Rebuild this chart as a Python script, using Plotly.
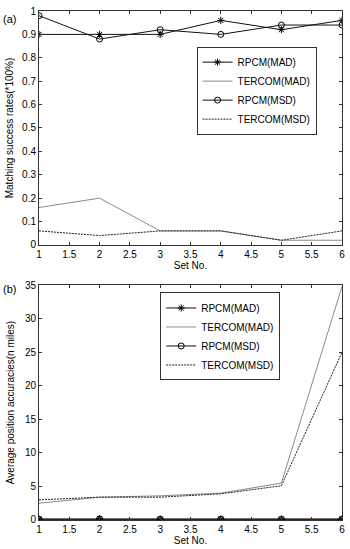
import plotly.graph_objects as go
from plotly.subplots import make_subplots

sets = [1, 2, 3, 4, 5, 6]
# (a) matching success rates
a_rpcm_mad = [0.90, 0.90, 0.90, 0.96, 0.92, 0.96]
a_tercom_mad = [0.16, 0.20, 0.06, 0.06, 0.02, 0.02]
a_rpcm_msd = [0.98, 0.88, 0.92, 0.90, 0.94, 0.94]
a_tercom_msd = [0.06, 0.04, 0.06, 0.06, 0.02, 0.06]
# (b) average position accuracies
b_rpcm_mad = [0.15, 0.2, 0.15, 0.15, 0.15, 0.15]
b_tercom_mad = [2.5, 3.4, 3.6, 4.0, 5.5, 34.8]
b_rpcm_msd = [0.1, 0.15, 0.1, 0.1, 0.1, 0.1]
b_tercom_msd = [3.0, 3.4, 3.4, 3.9, 5.1, 25.0]

FONT = "Liberation Sans, Arial, sans-serif"
fig = make_subplots(rows=2, cols=1)

def add(x, y, name, row, legend, color, dash, marker):
    kw = dict(x=x, y=y, name=name, legend=legend,
              line=dict(color=color, width=1, dash=dash))
    if marker:
        kw["mode"] = "lines+markers"
        kw["marker"] = dict(symbol=marker, size=6, color="black",
                            line=dict(color="black", width=1))
    else:
        kw["mode"] = "lines"
    fig.add_trace(go.Scatter(**kw), row=row, col=1)

add(sets, a_rpcm_mad, "RPCM(MAD)", 1, "legend", "#111111", "solid", "asterisk-open")
add(sets, a_tercom_mad, "TERCOM(MAD)", 1, "legend", "#8a8a8a", "solid", None)
add(sets, a_rpcm_msd, "RPCM(MSD)", 1, "legend", "#111111", "solid", "circle-open")
add(sets, a_tercom_msd, "TERCOM(MSD)", 1, "legend", "#222222", "2px,1px", None)

add(sets, b_rpcm_mad, "RPCM(MAD)", 2, "legend2", "#111111", "solid", "asterisk-open")
add(sets, b_tercom_mad, "TERCOM(MAD)", 2, "legend2", "#8a8a8a", "solid", None)
add(sets, b_rpcm_msd, "RPCM(MSD)", 2, "legend2", "#111111", "solid", "circle-open")
add(sets, b_tercom_msd, "TERCOM(MSD)", 2, "legend2", "#222222", "2px,1px", None)

xticks = [1, 1.5, 2, 2.5, 3, 3.5, 4, 4.5, 5, 5.5, 6]
axcommon = dict(showgrid=False, zeroline=False, showline=True, mirror="ticks",
                linecolor="#333333", linewidth=1, ticks="inside", ticklen=3,
                tickcolor="#333333", tickfont=dict(size=10, color="black", family=FONT))

fig.update_xaxes(range=[1, 6], tickvals=xticks, ticktext=[f"{v:g}" for v in xticks],
                 title=dict(text="Set No.", font=dict(size=10, family=FONT, color="black"), standoff=2),
                 **axcommon)
fig.update_yaxes(**axcommon)
fig.update_yaxes(range=[0, 1], dtick=0.1, row=1, col=1,
                 title=dict(text="Matching success rates(*100%)", font=dict(size=10, family=FONT, color="black"), standoff=6))
fig.update_yaxes(range=[0, 35], dtick=5, row=2, col=1,
                 title=dict(text="Average position accuracies(n miles)", font=dict(size=10, family=FONT, color="black"), standoff=8))

fig.update_layout(
    width=350, height=549,
    margin=dict(l=39, r=6, t=5, b=24),
    plot_bgcolor="white", paper_bgcolor="white",
    font=dict(family=FONT, size=10, color="black"),
    xaxis=dict(domain=[0, 1]), yaxis=dict(domain=[0.5404, 1.0]),
    xaxis2=dict(domain=[0, 1]), yaxis2=dict(domain=[0.0, 0.4615]),
    legend=dict(x=0.52, y=0.93, xanchor="left", yanchor="top",
                bgcolor="white", bordercolor="#333333", borderwidth=1,
                font=dict(size=10, family=FONT), itemwidth=30, tracegroupgap=0),
    legend2=dict(x=0.40, y=0.447, xanchor="left", yanchor="top",
                 bgcolor="white", bordercolor="#333333", borderwidth=1,
                 font=dict(size=10, family=FONT), itemwidth=30, tracegroupgap=0),
    showlegend=True,
)
fig.add_annotation(text="(a)", xref="paper", yref="paper", x=-0.125, y=1.0,
                   xanchor="left", yanchor="top", showarrow=False,
                   font=dict(size=11, family=FONT, color="black"))
fig.add_annotation(text="(b)", xref="paper", yref="paper", x=-0.125, y=0.47,
                   xanchor="left", yanchor="top", showarrow=False,
                   font=dict(size=11, family=FONT, color="black"))

fig.write_html("out.html")
